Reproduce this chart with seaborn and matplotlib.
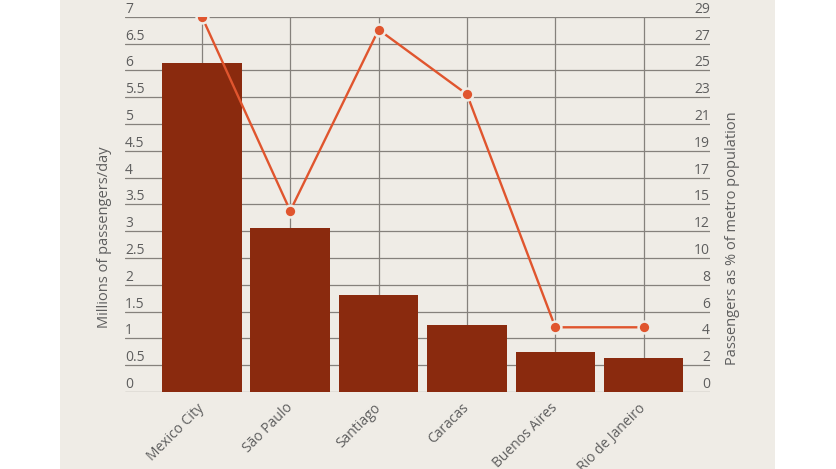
import numpy as np
import seaborn as sns
import matplotlib.pyplot as plt
from matplotlib.patches import Rectangle

cities = ['Mexico City', 'São Paulo', 'Santiago', 'Caracas', 'Buenos Aires', 'Rio de Janeiro']
riders_millions = [6.14, 3.06, 1.81, 1.25, 0.75, 0.64]
pct_of_metro = [29, 14, 28, 23, 5, 5]

left_ticks = np.arange(0, 7.01, 0.5)
left_labels = ['0', '0.5', '1', '1.5', '2', '2.5', '3', '3.5', '4', '4.5', '5', '5.5', '6', '6.5', '7']
right_labels = ['0', '2', '4', '6', '8', '10', '12', '15', '17', '19', '21', '23', '25', '27', '29']

bg = '#efece6'
bar_color = '#8a2a0e'
line_color = '#e0552e'
text_color = '#5e5e5e'
grid_color = '#85817c'

sns.set_theme(style='whitegrid')
plt.rcParams['font.family'] = ['Open Sans', 'DejaVu Sans']

fig = plt.figure(figsize=(8.36, 4.69), dpi=100, facecolor='white')
# beige panel behind the chart
fig.patches.append(Rectangle((60 / 836, 0), 715 / 836, 1, transform=fig.transFigure,
                             facecolor=bg, edgecolor='none', zorder=-1))
ax = fig.add_axes([125 / 836, 1 - 392 / 469, 585 / 836, 375.3 / 469])
ax.set_facecolor(bg)

sns.barplot(x=cities, y=riders_millions, color=bar_color, saturation=1, width=0.9,
            edgecolor='none', ax=ax, zorder=2)
ax.set_xlim(-0.87, 5.75)
ax.set_ylim(0, 7)
ax.set_axisbelow(True)
ax.grid(True, axis='both', color=grid_color, linewidth=0.9)

ax.set_yticks(left_ticks)
ax.set_yticklabels(left_labels)
ax.tick_params(axis='y', length=0, pad=0, labelsize=10, labelcolor=text_color)
plt.setp(ax.get_yticklabels(), ha='left', va='bottom')

ax.set_xticks(range(len(cities)))
ax.set_xticklabels(cities, rotation=45, ha='right', va='center', rotation_mode='anchor')
ax.tick_params(axis='x', length=0, pad=10, labelsize=10, labelcolor=text_color)
ax.set_xlabel('')
ax.set_ylabel('Millions of passengers/day', fontsize=10.5, color=text_color)
ax.yaxis.label.set_va('center')
ax.yaxis.set_label_coords((105 - 125) / 585, (392 - 237) / 375.3)

ax2 = ax.twinx()
sns.lineplot(x=np.arange(len(cities)), y=pct_of_metro, ax=ax2, color=line_color,
             linewidth=1.7, marker='o', markersize=8.5, markerfacecolor=line_color,
             markeredgecolor=bg, markeredgewidth=1.8)
ax2.set_ylim(0, 29)
ax2.grid(False)
ax2.set_yticks(np.linspace(0, 29, 15))
ax2.set_yticklabels(right_labels)
ax2.tick_params(axis='y', length=0, pad=0, labelsize=10, labelcolor=text_color)
plt.setp(ax2.get_yticklabels(), ha='right', va='bottom')
ax2.set_ylabel('Passengers as % of metro population', fontsize=10.5, color=text_color)
ax2.yaxis.label.set_va('center')
ax2.yaxis.set_label_coords((733 - 125) / 585, (392 - 238) / 375.3)

for a in (ax, ax2):
    for s in a.spines.values():
        s.set_visible(False)
for lbl in ax2.get_yticklabels() + ax.get_yticklabels():
    lbl.set_clip_on(False)

fig.savefig('out.png', dpi=100, facecolor='white')
